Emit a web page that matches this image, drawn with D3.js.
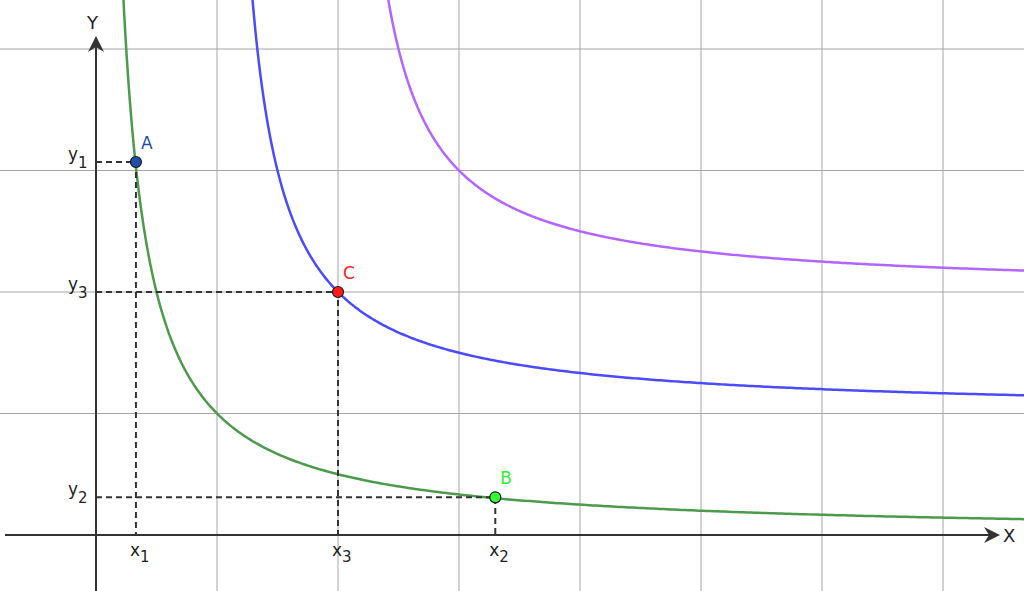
<!DOCTYPE html>
<html><head><meta charset="utf-8">
<script src="https://cdn.jsdelivr.net/npm/d3@7"></script>
<style>body{margin:0;background:#fff}svg{display:block;font-family:"DejaVu Sans",sans-serif}</style>
</head><body>
<script>
// curves y = 1/(x - shift) + shift
var curveShifts = [0, 1, 2];
var curveColors = ["#4c9a4c", "#4a4aff", "#b366ff"];
// labelled points
var pointNames = ["A", "C", "B"];
var pointX = [0.33, 2, 3.3];
var pointY = [3.07, 2, 0.31];
var pointFill = ["#1f4fa8", "#ff1a1a", "#33ff33"];
var pointLabelColor = ["#1f4fa8", "#ff1a1a", "#33ee33"];
var xSubs = ["1", "3", "2"];
var ySubs = ["1", "3", "2"];

var width = 1024, height = 591;
var x = d3.scaleLinear().domain([0, 1]).range([96, 217]);
var y = d3.scaleLinear().domain([0, 1]).range([535, 413.5]);

const svg = d3.select("body").append("svg").attr("width", width).attr("height", height);

// grid
var gx = d3.range(-1, 9).filter(function(d){ return d !== 0; });
var gy = d3.range(-1, 5).filter(function(d){ return d !== 0; });
svg.selectAll(".gv").data(gx).enter().append("line")
   .attr("x1", d => x(d)).attr("x2", d => x(d)).attr("y1", 0).attr("y2", height)
   .attr("stroke", "#a6a6a6").attr("stroke-width", 1);
svg.selectAll(".gh").data(gy).enter().append("line")
   .attr("y1", d => y(d)).attr("y2", d => y(d)).attr("x1", 0).attr("x2", width)
   .attr("stroke", "#a6a6a6").attr("stroke-width", 1);

// axes
svg.append("line").attr("x1", 5).attr("x2", 998).attr("y1", y(0)).attr("y2", y(0))
   .attr("stroke", "#333").attr("stroke-width", 2);
svg.append("path").attr("d", "M984,527 L1000,535 L984,543 L989,535 Z").attr("fill", "#333")
   .attr("transform", "translate(0," + (y(0) - 535) + ")");
svg.append("line").attr("x1", x(0)).attr("x2", x(0)).attr("y1", 38).attr("y2", height)
   .attr("stroke", "#333").attr("stroke-width", 2);
svg.append("path").attr("d", "M88,52 L96,36 L104,52 L96,47 Z").attr("fill", "#333");
svg.append("text").attr("x", 1003).attr("y", 542).attr("font-size", 18).attr("fill", "#222").text("X");
svg.append("text").attr("x", 87).attr("y", 29).attr("font-size", 18).attr("fill", "#222").text("Y");

// curves
var xMax = x.invert(width + 5), yTop = y.invert(-5);
curveShifts.forEach(function(s, i) {
  var x0 = s + 1 / (yTop - s);
  var xs = d3.range(0, 401).map(function(k){ return x0 + (xMax - x0) * Math.pow(k / 400, 2); });
  var line = d3.line().x(d => x(d)).y(d => y(1 / (d - s) + s)).curve(d3.curveLinear);
  svg.append("path").datum(xs).attr("d", line).attr("fill", "none")
     .attr("stroke", curveColors[i]).attr("stroke-width", 2.5);
});

// dashed guides
pointX.forEach(function(px, i) {
  svg.append("path")
     .attr("d", "M" + x(0) + "," + y(pointY[i]) + " H" + x(px) + " V" + y(0))
     .attr("fill", "none").attr("stroke", "#333").attr("stroke-width", 2).attr("stroke-dasharray", "6,4");
});

// points
pointX.forEach(function(px, i) {
  svg.append("circle").attr("cx", x(px)).attr("cy", y(pointY[i])).attr("r", 5.5)
     .attr("fill", pointFill[i]).attr("stroke", "#1a1a1a").attr("stroke-width", 1.2);
  svg.append("text").attr("x", x(px) + 5).attr("y", y(pointY[i]) - 13)
     .attr("font-size", 17).attr("fill", pointLabelColor[i]).text(pointNames[i]);
  // x label
  var tx = svg.append("text").attr("x", x(px) - 6).attr("y", y(0) + 21).attr("font-size", 17).attr("fill", "#222");
  tx.append("tspan").text("x");
  tx.append("tspan").attr("dy", 6).attr("font-size", 15).text(xSubs[i]);
  // y label
  var ty = svg.append("text").attr("x", 68).attr("y", y(pointY[i]) - 2).attr("font-size", 17).attr("fill", "#222");
  ty.append("tspan").text("y");
  ty.append("tspan").attr("dy", 8).attr("font-size", 15).text(ySubs[i]);
});
</script>
</body></html>
